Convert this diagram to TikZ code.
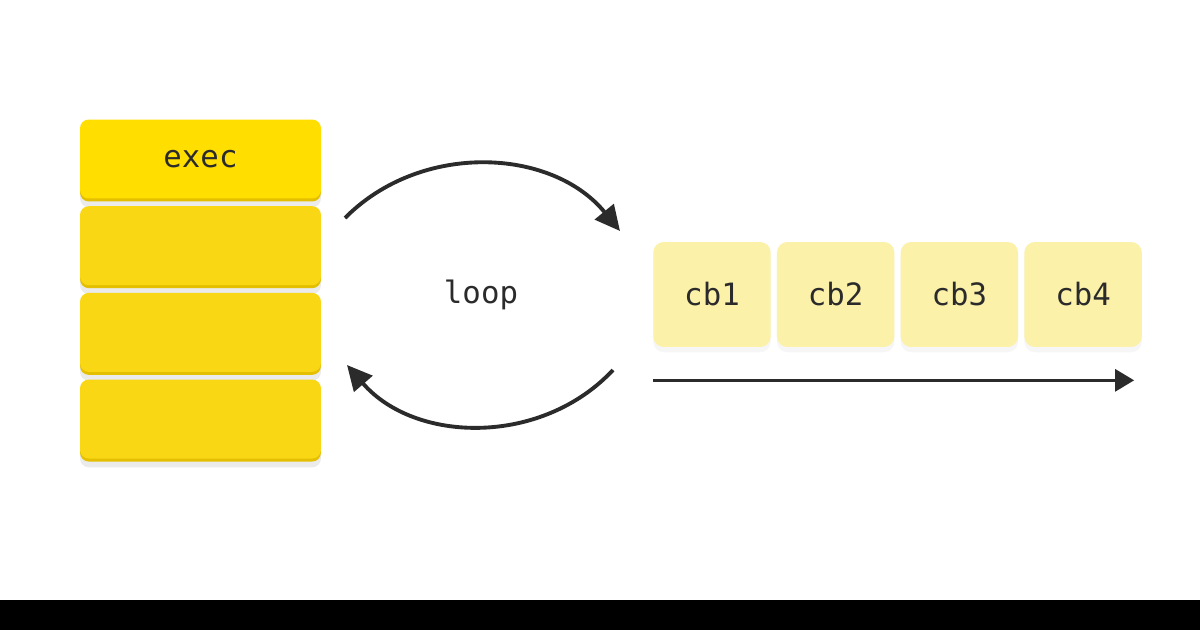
\documentclass[tikz,border=0pt]{standalone}
\usepackage{fontspec}
\setmonofont{DejaVu Sans Mono}
\usetikzlibrary{positioning,shadows,arrows.meta}
\definecolor{execyellow}{HTML}{FFDE00}
\definecolor{stackyellow}{HTML}{FAD714}
\definecolor{stackedge}{HTML}{E3BF00}
\definecolor{cbyellow}{HTML}{FCF1A9}
\definecolor{inkgray}{HTML}{2B2B2B}
\tikzset{every node/.style={font=\ttfamily\fontsize{17.5}{20}\selectfont, text=inkgray},
  frame/.style={rounded corners=5pt, minimum width=4.82cm, minimum height=1.58cm, inner sep=0pt,
    drop shadow={shadow xshift=0pt, shadow yshift=-5pt, opacity=0.08, fill=black},
    drop shadow={shadow xshift=0pt, shadow yshift=-1.7pt, opacity=1, fill=stackedge}},
  cbbox/.style={fill=cbyellow, rounded corners=6pt, minimum width=2.35cm, minimum height=2.1cm, inner sep=0pt,
    drop shadow={shadow xshift=0pt, shadow yshift=-3pt, opacity=0.035, fill=black}},
  flow/.style={draw=inkgray, line width=2.2pt, -{Triangle[length=0.5cm,width=0.48cm]}}}

\begin{document}
\begin{tikzpicture}[x=0.02cm, y=0.02cm]
   \fill[white] (0,0) rectangle (1200,630);
   \fill[black] (0,0) rectangle (1200,30);
   \useasboundingbox (0,0) rectangle (1200,630);
   % call stack
   \node[frame, fill=execyellow] (exec) at (200.5,471) {\raisebox{-1.5pt}{exec}};
   \node[frame, fill=stackyellow, below=0.14cm of exec] (s2) {};
   \node[frame, fill=stackyellow, below=0.14cm of s2] (s3) {};
   \node[frame, fill=stackyellow, below=0.14cm of s3] (s4) {};
   % callbacks
   \node[cbbox] (cb1) at (712,335.5) {\raisebox{-1.5pt}{cb1}};
   \foreach \i [count=\j from 2] in {1,2,3}
     \node[cbbox, right=0.11cm of cb\i] (cb\j) {\raisebox{-1.5pt}{cb\j}};
   % event loop
   \node (loop) at (481,335) {loop};
   \coordinate (a1) at (345,412);
   \coordinate (a2) at (620,399);
   \coordinate (b1) at (613,260);
   \coordinate (b2) at (347,265);
   \draw[flow] (a1) to[bend left=48] (a2);
   \draw[flow] (b1) to[bend left=48] (b2);
   % timeline
   \coordinate (t0) at ([yshift=-0.66cm]cb1.south west);
   \coordinate (t1) at ([yshift=-0.66cm, xshift=-0.16cm]cb4.south east);
   \draw[inkgray, line width=1.7pt, -{Triangle[length=0.38cm,width=0.44cm]}] (t0) -- (t1);
\end{tikzpicture}
\end{document}
